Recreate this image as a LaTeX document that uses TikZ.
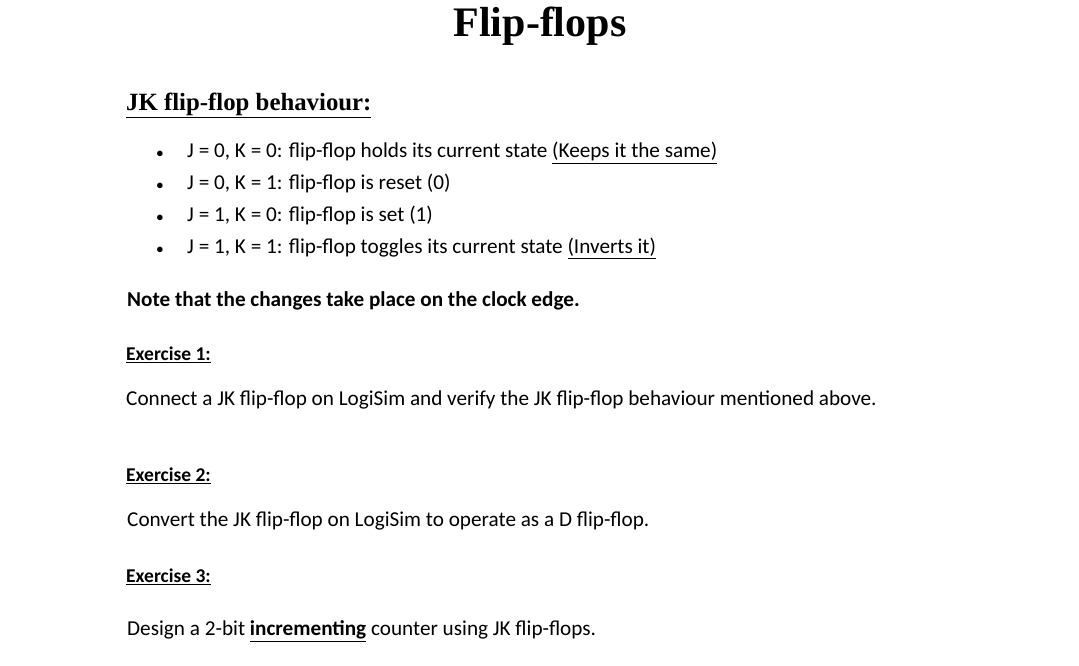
\documentclass[tikz,border=0pt]{standalone}
\usepackage{fontspec}
\setmainfont{Carlito}
\newfontfamily\tnr{Liberation Serif}
\newcommand\myul[1]{\underline{#1}}
\begin{document}
\begin{tikzpicture}[x=1pt,y=1pt,
  txt/.style={anchor=base west,inner sep=0pt,font=\fontsize{21.2}{25}\selectfont},
  hd/.style={anchor=base west,inner sep=0pt,font=\fontsize{19.5}{24}\selectfont\bfseries},
  bul/.style={anchor=base,inner sep=0pt,font=\fontsize{14}{18}\selectfont}]
\useasboundingbox[fill=white] (0,0) rectangle (1079,666);
\node[anchor=base,inner sep=0pt,font=\fontsize{42}{46}\selectfont\tnr\bfseries] (title) at (540,666-37) {Flip-flops};
\node[anchor=base west,inner sep=0pt,font=\fontsize{24.8}{28}\selectfont\tnr\bfseries] (jk) at (126,666-111) {\myul{JK flip-flop behaviour:}};
\foreach \y/\t [count=\i] in {158/{J = 0, K = 0: flip-flop holds its current state \myul{(Keeps it the same)}},
  190/{J = 0, K = 1: flip-flop is reset (0)},
  222/{J = 1, K = 0: flip-flop is set (1)},
  254/{J = 1, K = 1: flip-flop toggles its current state \myul{(Inverts it)}}}{
  \node[bul] (b\i) at (160,666-\y) {$\bullet$};
  \node[txt] (t\i) at (187,666-\y) {\t};
}
\node[txt,font=\fontsize{21.2}{25}\selectfont\bfseries] (note) at (127,666-307) {Note that the changes take place on the clock edge.};
\node[hd] (e1) at (126,666-361) {\myul{Exercise 1:}};
\node[txt] (c1) at (126,666-406) {Connect a JK flip-flop on LogiSim and verify the JK flip-flop behaviour mentioned above.};
\node[hd] (e2) at (126,666-482) {\myul{Exercise 2:}};
\node[txt] (c2) at (127,666-527) {Convert the JK flip-flop on LogiSim to operate as a D flip-flop.};
\node[hd] (e3) at (126,666-583) {\myul{Exercise 3:}};
\node[txt] (c3) at (127,666-636) {Design a 2-bit \textbf{\myul{incrementing}} counter using JK flip-flops.};
\end{tikzpicture}
\end{document}
